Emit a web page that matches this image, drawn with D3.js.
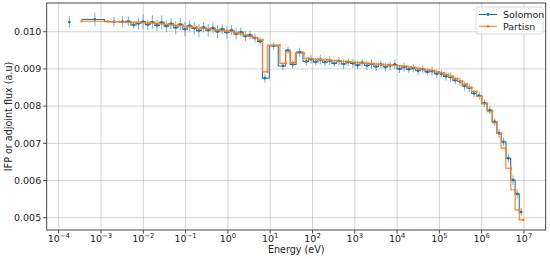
<!DOCTYPE html>
<meta charset="utf-8">
<html lang="en">
<head>
    <title>IFP_flux</title>
    <script src="https://cdn.jsdelivr.net/npm/d3@7"></script>
</head>
<style>
    body{ margin: 0; background: white; }
    svg{ display: block; }
    text{
        font-family: "DejaVu Sans", sans-serif;
        fill: #222;
    }
</style>
<body>
<svg width="550" height="259"></svg>
<script>

    // group edges, log10(E / eV)
    const edgeLog10 = [-4.04, -3.46, -2.83, -2.56, -2.42, -2.29, -2.17,
        -2.06, -1.95, -1.84, -1.73, -1.62, -1.51, -1.40, -1.29, -1.18, -1.07, -0.96, -0.85, -0.74,
        -0.63, -0.52, -0.41, -0.30, -0.19, -0.08, 0.03,
        0.14, 0.25, 0.36, 0.47, 0.58, 0.70, 0.82,
        0.93, 1.23, 1.37, 1.47, 1.59, 1.80,
        1.91, 2.02, 2.13, 2.24, 2.35, 2.46, 2.57, 2.68, 2.79, 2.90, 3.01, 3.12, 3.23, 3.34,
        3.45, 3.56, 3.67, 3.78, 3.89, 4.00, 4.11, 4.22, 4.33, 4.44, 4.55, 4.66, 4.77, 4.88,
        4.99, 5.10, 5.21, 5.32, 5.43, 5.54, 5.65, 5.76,
        5.88, 6.00, 6.13, 6.25, 6.36, 6.46, 6.57, 6.69, 6.79, 6.89, 6.98]

    const partisn = [0.01028, 0.01028, 0.01027, 0.01026, 0.01025, 0.01025,
        0.01025, 0.01024, 0.01024, 0.01023, 0.01022, 0.01021, 0.01020, 0.01018, 0.01017, 0.01016,
        0.01014, 0.01013, 0.01012, 0.01010, 0.01009, 0.01008, 0.01006, 0.01005, 0.01003, 0.01002,
        0.01000, 0.00997, 0.00994, 0.00991, 0.00987, 0.00983, 0.00978,
        0.00892, 0.00964, 0.00915, 0.00946, 0.00917, 0.00942,
        0.00928, 0.00927, 0.00926, 0.00925, 0.00924, 0.00923, 0.00922, 0.00921, 0.00920, 0.00919,
        0.00918, 0.00917, 0.00916, 0.00915, 0.00914, 0.00913, 0.00912, 0.00911, 0.00910, 0.00909,
        0.00908, 0.00907, 0.00905, 0.00903, 0.00901, 0.00899, 0.00897, 0.00895, 0.00892, 0.00889,
        0.00885, 0.00880, 0.00874, 0.00867, 0.00859, 0.00850, 0.00839, 0.00826,
        0.00806, 0.00785, 0.00755, 0.00727, 0.00687, 0.00633, 0.00575, 0.00521, 0.00494]

    const solomon = [0.01026, 0.01033, 0.01027, 0.01027, 0.01028, 0.01018,
        0.01022, 0.01027, 0.01019, 0.01026, 0.01017, 0.01025, 0.01015, 0.01022, 0.01011, 0.01020,
        0.01007, 0.01016, 0.01009, 0.01003, 0.01012, 0.01004, 0.01010, 0.01000, 0.01007, 0.00998,
        0.01004, 0.00994, 0.00999, 0.00988, 0.00991, 0.00983, 0.00974,
        0.00875, 0.00962, 0.00908, 0.00950, 0.00912, 0.00945,
        0.00920, 0.00926, 0.00919, 0.00925, 0.00918, 0.00922, 0.00915, 0.00921, 0.00913, 0.00918,
        0.00915, 0.00910, 0.00917, 0.00909, 0.00913, 0.00906, 0.00912, 0.00905, 0.00909, 0.00912,
        0.00900, 0.00905, 0.00899, 0.00902, 0.00895, 0.00899, 0.00892, 0.00894, 0.00887, 0.00887,
        0.00880, 0.00878, 0.00869, 0.00866, 0.00854, 0.00849, 0.00834, 0.00828,
        0.00808, 0.00789, 0.00758, 0.00727, 0.00704, 0.00660, 0.00601, 0.00564, 0.00515]

    const solomonErr = [0.00016, 0.00018, 0.00013, 0.00015, 0.00013, 0.00010,
        0.00016, 0.00019, 0.00014, 0.00018, 0.00015, 0.00019, 0.00016, 0.00014, 0.00018, 0.00017,
        0.00019, 0.00015, 0.00017, 0.00018, 0.00014, 0.00017, 0.00015, 0.00018, 0.00014, 0.00016,
        0.00014, 0.00015, 0.00012, 0.00014, 0.00011, 0.00012, 0.00011,
        0.00012, 0.00010, 0.00011, 0.00010, 0.00011, 0.00012,
        0.00011, 0.00012, 0.00010, 0.00013, 0.00011, 0.00012, 0.00010, 0.00011, 0.00013, 0.00010,
        0.00012, 0.00011, 0.00010, 0.00012, 0.00013, 0.00011, 0.00010, 0.00012, 0.00011, 0.00013,
        0.00011, 0.00012, 0.00010, 0.00011, 0.00012, 0.00011, 0.00010, 0.00012, 0.00011, 0.00010,
        0.00011, 0.00012, 0.00010, 0.00011, 0.00012, 0.00011, 0.00010, 0.00011,
        0.00010, 0.00011, 0.00010, 0.00012, 0.00011, 0.00012, 0.00013, 0.00012, 0.00011]

    const xTickExp = [-4, -3, -2, -1, 0, 1, 2, 3, 4, 5, 6, 7]
    const yTicks = [0.005, 0.006, 0.007, 0.008, 0.009, 0.010]

    const W = 550, H = 259
    const margin = {left: 46.7, top: 3, right: 4.3, bottom: 29}
    const blue = "#1f77b4", orange = "#ff7f0e"
    const fs = 9.5

    const svg = d3.select("svg")

    const x = d3.scaleLog()
        .domain([Math.pow(10, -4.284), Math.pow(10, 7.513)])
        .range([margin.left, W - margin.right])
    const y = d3.scaleLinear()
        .domain([0.004669, 0.010772])
        .range([H - margin.bottom, margin.top])

    // grid
    svg.append("g").selectAll("line")
        .data(xTickExp).enter().append("line")
        .attr("x1", d => x(Math.pow(10, d))).attr("x2", d => x(Math.pow(10, d)))
        .attr("y1", margin.top).attr("y2", H - margin.bottom)
        .attr("stroke", "#b0b0b0").attr("stroke-opacity", 0.55).attr("stroke-width", 1)
    svg.append("g").selectAll("line")
        .data(yTicks).enter().append("line")
        .attr("x1", margin.left).attr("x2", W - margin.right)
        .attr("y1", d => y(d)).attr("y2", d => y(d))
        .attr("stroke", "#b0b0b0").attr("stroke-opacity", 0.55).attr("stroke-width", 1)

    // data points
    const groups = solomon.map((v, i) => ({
        lo: Math.pow(10, edgeLog10[i]),
        hi: Math.pow(10, edgeLog10[i + 1]),
        sol: v, err: solomonErr[i], par: partisn[i]
    }))
    groups.forEach(g => g.mid = Math.sqrt(g.lo * g.hi))

    const plot = svg.append("g")

    // Solomon: error bars + mid steps
    plot.append("g").selectAll("line")
        .data(groups).enter().append("line")
        .attr("x1", d => x(d.mid)).attr("x2", d => x(d.mid))
        .attr("y1", d => y(d.sol - d.err)).attr("y2", d => y(d.sol + d.err))
        .attr("stroke", blue).attr("stroke-opacity", 0.55).attr("stroke-width", 1.1)

    // first point is drawn alone, the step line starts at the next group
    const solLine = d3.line().x(d => x(d.mid)).y(d => y(d.sol)).curve(d3.curveStep)
    plot.append("path").datum(groups.slice(1))
        .attr("d", solLine).attr("fill", "none")
        .attr("stroke", blue).attr("stroke-width", 1.1)
    plot.append("line")
        .attr("x1", x(groups[1].lo)).attr("x2", x(groups[1].mid))
        .attr("y1", y(groups[1].sol)).attr("y2", y(groups[1].sol))
        .attr("stroke", blue).attr("stroke-width", 1.1)
    plot.append("g").selectAll("circle")
        .data(groups).enter().append("circle")
        .attr("cx", d => x(d.mid)).attr("cy", d => y(d.sol)).attr("r", 1.4)
        .attr("fill", blue)

    // Partisn: pre steps, point at group upper edge
    const parLine = d3.line().x(d => x(d.hi)).y(d => y(d.par)).curve(d3.curveStepBefore)
    plot.append("path").datum(groups)
        .attr("d", parLine).attr("fill", "none")
        .attr("stroke", orange).attr("stroke-width", 1.1)
    plot.append("g").selectAll("circle")
        .data(groups).enter().append("circle")
        .attr("cx", d => x(d.hi)).attr("cy", d => y(d.par)).attr("r", 1.2)
        .attr("fill", orange)

    // frame
    svg.append("rect")
        .attr("x", margin.left).attr("y", margin.top)
        .attr("width", W - margin.left - margin.right)
        .attr("height", H - margin.top - margin.bottom)
        .attr("fill", "none").attr("stroke", "#333").attr("stroke-width", 0.9)

    // x axis ticks + labels
    const xt = svg.append("g").selectAll("g")
        .data(xTickExp).enter().append("g")
        .attr("transform", d => "translate(" + x(Math.pow(10, d)) + "," + (H - margin.bottom) + ")")
    xt.append("line").attr("y2", 3.5).attr("stroke", "#333").attr("stroke-width", 0.9)
    const xl = xt.append("text").attr("y", 12).attr("text-anchor", "middle").attr("font-size", fs)
    xl.append("tspan").text("10")
    xl.append("tspan").attr("dy", -4).attr("font-size", 6.8)
        .text(d => (d < 0 ? "\u2212" : "") + Math.abs(d))

    // y axis ticks + labels
    const yt = svg.append("g").selectAll("g")
        .data(yTicks).enter().append("g")
        .attr("transform", d => "translate(" + margin.left + "," + y(d) + ")")
    yt.append("line").attr("x2", -3.5).attr("stroke", "#333").attr("stroke-width", 0.9)
    yt.append("text").attr("x", -5.5).attr("dy", "0.35em")
        .attr("text-anchor", "end").attr("font-size", fs)
        .text(d => d3.format(".3f")(d))

    // axis titles
    svg.append("text")
        .attr("x", (margin.left + W - margin.right) / 2).attr("y", 253)
        .attr("text-anchor", "middle").attr("font-size", 9.6)
        .text("Energy (eV)")
    svg.append("text")
        .attr("transform", "translate(11.5," + ((margin.top + H - margin.bottom) / 2) + ") rotate(-90)")
        .attr("text-anchor", "middle").attr("font-size", 9.6)
        .text("IFP or adjoint flux (a.u)")

    // legend
    const leg = svg.append("g").attr("transform", "translate(476,7)")
    leg.append("rect").attr("width", 67).attr("height", 27).attr("rx", 2)
        .attr("fill", "white").attr("fill-opacity", 0.8)
        .attr("stroke", "#d0d0d0").attr("stroke-width", 0.8)
    const items = [{name: "Solomon", color: blue}, {name: "Partisn", color: orange}]
    const li = leg.selectAll("g.item").data(items).enter().append("g")
        .attr("transform", (d, i) => "translate(0," + (7.5 + i * 11.8) + ")")
    li.append("line").attr("x1", 3).attr("x2", 21)
        .attr("stroke", d => d.color).attr("stroke-width", 1.1)
    li.append("circle").attr("cx", 12).attr("r", 1.4).attr("fill", d => d.color)
    li.append("text").attr("x", 27).attr("dy", "0.35em").attr("font-size", fs)
        .text(d => d.name)
</script>
</body>
</html>
